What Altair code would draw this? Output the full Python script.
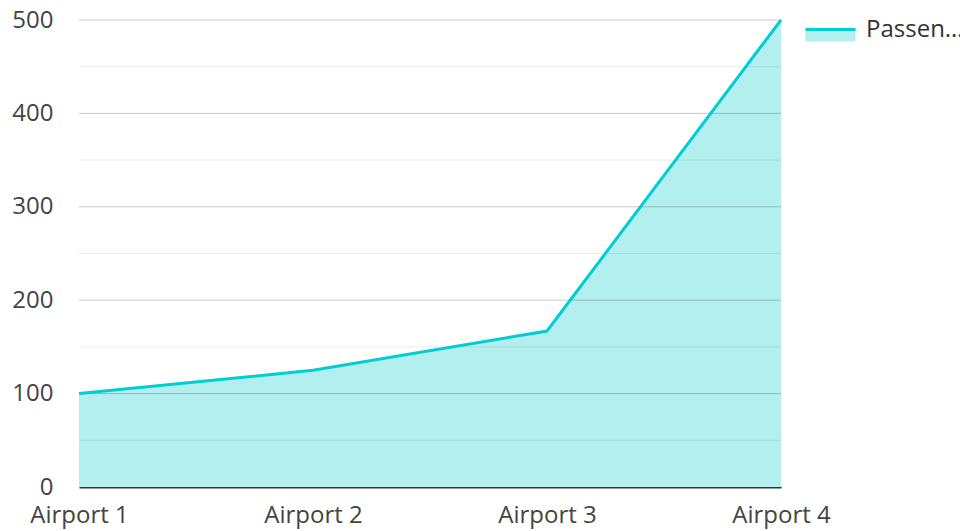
import altair as alt
import pandas as pd

airports = ["Airport 1", "Airport 2", "Airport 3", "Airport 4"]
passengers = [100, 125, 167, 500]
series_name = "Passengers"
grid_values = [50, 100, 150, 200, 250, 300, 350, 400, 450, 500]
y_ticks = [0, 100, 200, 300, 400, 500]

LINE = "#00CED1"
FILL = "#B2EFEE"
FONT = "Open Sans"

df = pd.DataFrame({"airport": airports, "value": passengers, "series": series_name})
grid_df = pd.DataFrame({"v": grid_values, "major": [v % 100 == 0 for v in grid_values]})

x_enc = alt.X("airport:N", sort=airports,
              scale=alt.Scale(type="point", padding=0),
              axis=alt.Axis(title=None, labelAngle=0, ticks=False, tickSize=0, grid=False,
                            domainColor="#333333", domainWidth=2,
                            labelPadding=16, labelFontSize=24, labelFont=FONT,
                            labelColor="#444444"))
y_scale = alt.Scale(domain=[0, 500], nice=False)

area = alt.Chart(df).mark_area(opacity=1, line=False).encode(
    x=x_enc,
    y=alt.Y("value:Q", scale=y_scale,
            axis=alt.Axis(title=None, values=y_ticks, grid=False, domain=False,
                          ticks=False, tickSize=0, labelPadding=26,
                          labelFontSize=24, labelFont=FONT, labelColor="#444444")),
    fill=alt.Fill("series:N",
                  scale=alt.Scale(domain=[series_name], range=[FILL]),
                  legend=alt.Legend(title=None, orient="none", legendX=725, legendY=-17,
                                    symbolType="M-1,0H1V0.48H-1Z", symbolSize=2500,
                                    symbolStrokeColor=LINE, symbolStrokeWidth=3,
                                    symbolDash=[50, 74], symbolOpacity=1,
                                    labelFont=FONT, labelFontSize=24, labelColor="#333333",
                                    labelLimit=100, labelOffset=9, padding=0)),
)

grid = alt.Chart(grid_df).mark_rule(strokeWidth=1).encode(
    y=alt.Y("v:Q", scale=y_scale),
    color=alt.value("#000000"),
    opacity=alt.condition("datum.major", alt.value(0.21), alt.value(0.08)),
)

line = alt.Chart(df).mark_line(color=LINE, strokeWidth=3).encode(
    x=alt.X("airport:N", sort=airports, scale=alt.Scale(type="point", padding=0)),
    y=alt.Y("value:Q", scale=y_scale),
)

chart = alt.layer(area, grid, line).properties(
    width=702, height=467,
    autosize=alt.AutoSizeParams(type="none"),
    padding={"left": 71, "top": 12, "right": 179, "bottom": 44},
).configure_view(stroke=None)

chart.save("out.html", embed_options={"renderer": "svg", "actions": False})
